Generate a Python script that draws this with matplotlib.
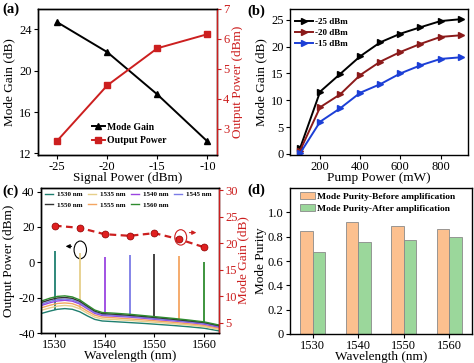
import numpy as np
import matplotlib
matplotlib.use('Agg')
import matplotlib.pyplot as plt
from matplotlib.patches import Ellipse, Rectangle
from matplotlib.ticker import FuncFormatter

#---------- data ----------

# (a) gain / output power vs signal power
signal_power = [-25, -20, -15, -10]
mode_gain_a = [24.7, 21.8, 17.7, 13.15]
output_power_a = [2.6, 4.45, 5.69, 6.16]

# (b) mode gain vs pump power
pump_power = [100, 200, 300, 400, 500, 600, 700, 800, 900]
gain_m25 = [1.05, 11.6, 14.9, 18.2, 20.8, 22.4, 23.6, 24.75, 25.1]
gain_m20 = [0.6, 8.7, 11.1, 14.7, 17.2, 19.0, 20.5, 21.8, 22.1]
gain_m15 = [0.1, 6.0, 8.5, 11.4, 13.0, 15.0, 16.5, 17.7, 18.0]
pump_labels = ['-25 dBm', '-20 dBm', '-15 dBm']

# (c) output spectra (ASE floor) and signal peaks
spec_wl = [1527.2, 1529, 1530.5, 1532, 1533.5, 1535, 1536.5, 1538, 1539.5,
           1542, 1545, 1548, 1551, 1554, 1557, 1560, 1563]
floor_1530 = [-29.0, -27.6, -26.6, -26.2, -26.6, -28.0, -30.3, -32.3, -33.2,
              -33.6, -34.1, -34.6, -35.2, -35.8, -36.5, -37.3, -38.8]
floor_1535 = [-27.2, -25.8, -24.8, -24.4, -24.8, -26.3, -28.8, -31.0, -32.0,
              -32.4, -32.9, -33.5, -34.1, -34.8, -35.5, -36.4, -38.0]
floor_1555 = [-25.8, -24.3, -23.3, -23.0, -23.4, -25.0, -27.6, -29.9, -31.0,
              -31.4, -32.0, -32.6, -33.3, -34.0, -34.8, -35.7, -37.3]
floor_1540 = [-24.5, -22.9, -21.9, -21.5, -22.0, -23.6, -26.3, -28.9, -30.1,
              -30.5, -31.0, -31.7, -32.5, -33.2, -34.0, -35.0, -36.7]
floor_1545 = [-23.8, -22.1, -21.1, -20.8, -21.3, -23.0, -25.7, -28.3, -29.6,
              -30.0, -30.6, -31.3, -32.1, -32.8, -33.7, -34.6, -36.3]
floor_1550 = [-22.8, -21.2, -20.2, -19.9, -20.4, -22.1, -24.9, -27.6, -29.0,
              -29.4, -30.0, -30.7, -31.5, -32.3, -33.2, -34.1, -35.9]
floor_1560 = [-22.0, -20.3, -19.3, -19.0, -19.6, -21.3, -24.2, -27.0, -28.4,
              -28.8, -29.4, -30.2, -31.0, -31.8, -32.7, -33.7, -35.5]

signal_wl = [1530, 1535, 1540, 1545, 1550, 1555, 1560]
signal_labels = ['1530 nm', '1535 nm', '1540 nm', '1545 nm', '1550 nm', '1555 nm', '1560 nm']
peak_power = [6.2, 5.3, 3.0, 4.3, 4.9, 3.8, 0.0]
peak_foot = [-27.0, -26.3, -30.1, -30.6, -31.5, -34.0, -33.7]
floors = [floor_1530, floor_1535, floor_1540, floor_1545, floor_1550, floor_1555, floor_1560]
gain_vs_wl = [23.3, 22.9, 21.7, 21.4, 21.9, 20.75, 19.25]

# (d) mode purity
purity_wl = ['1530', '1540', '1550', '1560']
purity_before = [0.85, 0.92, 0.89, 0.86]
purity_after = [0.67, 0.76, 0.77, 0.80]

#---------- style ----------
plt.rcParams['font.family'] = 'Liberation Serif'
plt.rcParams['axes.unicode_minus'] = False
plt.rcParams['font.size'] = 9
plt.rcParams['axes.linewidth'] = 1.0
plt.rcParams['xtick.major.size'] = 3
plt.rcParams['ytick.major.size'] = 3
plt.rcParams['xtick.major.pad'] = 1.5
plt.rcParams['ytick.major.pad'] = 1.5

RED = '#cc1f1f'
W, H = 474, 363
LAB = 9.5

def box(l, t, r, b):
    return [l / W, 1 - b / H, (r - l) / W, (b - t) / H]

fig = plt.figure(figsize=(W / 100, H / 100), dpi=100)

ax_a = fig.add_axes(box(38, 9, 217, 155))
ax_b = fig.add_axes(box(290, 9, 468, 155))
ax_c = fig.add_axes(box(41, 188, 219, 333))
ax_d = fig.add_axes(box(290, 188, 472, 334))
ax_b.set_zorder(2)

#---------- (a) ----------
ax_a2 = ax_a.twinx()
l1, = ax_a.plot(signal_power, mode_gain_a, color='black', marker='^', ms=5, lw=1.4)
l2, = ax_a2.plot(signal_power, output_power_a, color=RED, marker='s', ms=4.5, lw=1.4)
ax_a.set_xlim(-26.9, -9.05)
ax_a.set_ylim(11.84, 25.97)
ax_a2.set_ylim(2.13, 7)
ax_a.set_xticks(signal_power)
ax_a.set_yticks([12, 16, 20, 24])
ax_a2.set_yticks([3, 4, 5, 6, 7])
ax_a2.spines['right'].set_color(RED)
ax_a2.tick_params(axis='y', colors=RED)
ax_a.set_xlabel('Signal Power (dBm)', fontsize=LAB, labelpad=-1)
ax_a.set_ylabel('Mode Gain (dB)', fontsize=LAB, labelpad=3)
ax_a2.set_ylabel('Output Power (dBm)', fontsize=LAB, color=RED, labelpad=2)
ax_a.legend([l1, l2], ['Mode Gain', 'Output Power'], loc='center',
            bbox_to_anchor=(0.51, 0.144), frameon=False, prop={'weight': 'bold', 'size': 7},
            handlelength=1.35, handletextpad=0.25, labelspacing=0.45, borderpad=0)

#---------- (b) ----------
b_colors = ['black', '#8b1a1a', '#1c3fd6']
for g, c, lab in zip([gain_m25, gain_m20, gain_m15], b_colors, pump_labels):
    ax_b.plot(pump_power, g, color=c, marker='>', ms=5, lw=1.4, label=lab)
ax_b.set_xlim(50, 937)
ax_b.set_ylim(-0.2, 27)
ax_b.set_xticks([200, 400, 600, 800])
ax_b.set_yticks([0, 5, 10, 15, 20, 25])
ax_b.set_xlabel('Pump Power (mW)', fontsize=LAB, labelpad=-1)
ax_b.set_ylabel('Mode Gain (dB)', fontsize=LAB, labelpad=3)
ax_b.legend(loc='center', bbox_to_anchor=(0.177, 0.834), frameon=False,
            prop={'weight': 'bold', 'size': 6.5}, handlelength=2.0, handletextpad=0.25,
            labelspacing=0.3, borderpad=0)

# the (b) panel sits over the end of the red label of (a)
fig.add_artist(Rectangle((241.5 / W, 0.5), 1, 0.5, transform=fig.transFigure,
                         facecolor='white', edgecolor='none', zorder=1))

#---------- (c) ----------
spec_colors = ['#1f7f6f', '#e6cf8a', '#9a44e0', '#7b7be6', '#333333', '#f4a561', '#2e8b2e']
draw_order = [0, 1, 5, 2, 3, 4, 6]
handles = {}
for i in draw_order:
    ln, = ax_c.plot(spec_wl, floors[i], color=spec_colors[i], lw=1.0)
    ax_c.vlines(signal_wl[i], peak_foot[i], peak_power[i], color=spec_colors[i], lw=1.3)
    handles[i] = ln
ax_c.set_xlim(1527.2, 1563)
ax_c.set_ylim(-40, 42)
ax_c.set_xticks([1530, 1540, 1550, 1560])
ax_c.set_yticks([-40, -20, 0, 20, 40])
ax_c.set_xlabel('Wavelength (nm)', fontsize=LAB, labelpad=-1)
ax_c.set_ylabel('Output Power (dBm)', fontsize=LAB, labelpad=2)

leg_order = [0, 4, 1, 5, 2, 6, 3]
ax_c.legend([handles[i] for i in leg_order], [signal_labels[i] for i in leg_order],
            ncol=4, loc='upper left', bbox_to_anchor=(0.022, 0.975), frameon=False,
            prop={'weight': 'bold', 'size': 5}, handlelength=1.2, handletextpad=0.6,
            columnspacing=0.7, labelspacing=0.65, borderpad=0, borderaxespad=0)

ax_c.add_patch(Ellipse((1535.1, 7), 2.5, 10, fill=False, edgecolor='black', lw=0.8))
ax_c.annotate('', xy=(1531.6, 9), xytext=(1533.9, 9),
              arrowprops=dict(arrowstyle='-|>', color='black', lw=0.8, mutation_scale=6))

ax_c2 = ax_c.twinx()
ax_c2.plot(signal_wl, gain_vs_wl, color=RED, ls=(0, (3, 2)), lw=1.6, marker='o', ms=5,
           markerfacecolor='#e02020', markeredgecolor='#8b0000', markeredgewidth=0.5)
ax_c2.set_ylim(3.1, 30.4)
ax_c2.set_yticks([5, 10, 15, 20, 25, 30])
ax_c2.spines['right'].set_color(RED)
ax_c2.tick_params(axis='y', colors=RED)
ax_c2.set_ylabel('Mode Gain (dB)', fontsize=LAB, color=RED, labelpad=0)
ax_c2.add_patch(Ellipse((1555.3, 21.1), 2.4, 2.9, fill=False, edgecolor=RED, lw=0.8))
ax_c2.annotate('', xy=(1559, 22.0), xytext=(1556.5, 22.0),
               arrowprops=dict(arrowstyle='-|>', color=RED, lw=0.8, mutation_scale=6))

#---------- (d) ----------
x = np.arange(len(purity_wl))
bw = 0.28
ax_d.bar(x - bw / 2, purity_before, bw, color='#fcc08f', edgecolor='#8a8a8a', lw=0.6,
         label='Mode Purity-Before amplification')
ax_d.bar(x + bw / 2, purity_after, bw, color='#9bd79b', edgecolor='#8a8a8a', lw=0.6,
         label='Mode Purity-After amplification')
ax_d.set_xlim(-0.5, 3.5)
ax_d.set_ylim(0, 1.2)
ax_d.set_xticks(x)
ax_d.set_xticklabels(purity_wl)
ax_d.set_yticks([0, 0.2, 0.4, 0.6, 0.8, 1.0])
ax_d.yaxis.set_major_formatter(FuncFormatter(lambda v, p: '0' if v == 0 else '%.1f' % v))
ax_d.set_xlabel('Wavelength (nm)', fontsize=LAB, labelpad=-1)
ax_d.set_ylabel('Mode Purity', fontsize=LAB, labelpad=1)
ax_d.legend(loc='upper left', bbox_to_anchor=(0.055, 0.975), frameon=False,
            prop={'weight': 'bold', 'size': 6.8}, handlelength=1.6, handleheight=0.85,
            handletextpad=0.2, labelspacing=0.3, borderpad=0, borderaxespad=0)

#---------- panel letters ----------
for lab, px, py in [('(a)', 2, 9), ('(b)', 247, 11), ('(c)', 2, 191), ('(d)', 247, 190)]:
    fig.text(px / W, 1 - py / H, lab, fontsize=10.5, fontweight='bold', va='center', ha='left')

fig.savefig('out.png', dpi=100)
